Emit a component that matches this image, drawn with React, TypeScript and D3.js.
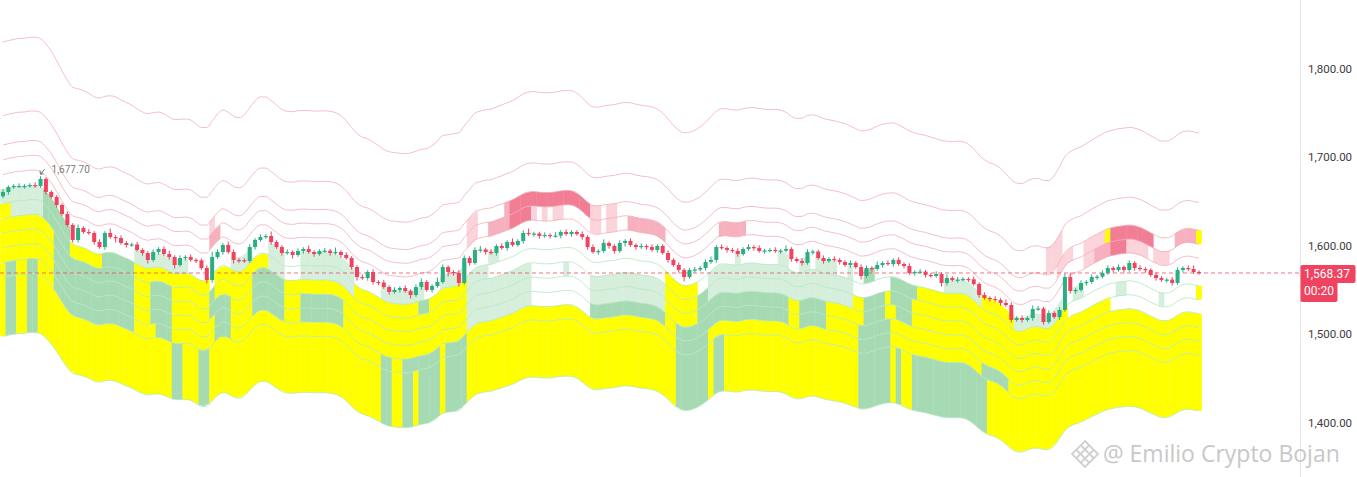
import React from 'react';
import * as d3 from 'd3';

// ---------------- DATA ----------------
const closes = [
  1659.9, 1665.5, 1666.7, 1666.7, 1666.7, 1667.8, 1666.7, 1674.6, 1659.9, 1654.2,
  1645.2, 1635.0, 1622.6, 1605.7, 1619.2, 1614.7, 1613.6, 1603.4, 1597.7, 1613.6,
  1609.0, 1607.9, 1602.3, 1600.0, 1600.6, 1594.4, 1591.0, 1583.1, 1592.1, 1595.5,
  1589.8, 1586.4, 1577.4, 1585.3, 1586.4, 1583.1, 1582.6, 1574.0, 1560.5, 1586.4,
  1592.1, 1600.0, 1592.1, 1583.1, 1582.8, 1581.9, 1597.7, 1605.7, 1609.0, 1610.2,
  1603.4, 1597.7, 1591.0, 1592.1, 1588.7, 1593.2, 1595.5, 1592.1, 1589.8, 1593.2,
  1593.6, 1591.0, 1592.1, 1588.7, 1585.3, 1575.1, 1563.8, 1562.7, 1569.5, 1558.2,
  1557.6, 1552.5, 1546.9, 1549.2, 1551.4, 1548.0, 1543.5, 1552.5, 1558.2, 1549.2,
  1553.7, 1558.2, 1575.1, 1569.5, 1568.4, 1557.1, 1585.3, 1579.7, 1594.4, 1594.9,
  1592.1, 1591.0, 1598.9, 1596.6, 1603.4, 1600.0, 1604.5, 1613.6, 1612.4, 1612.9,
  1610.2, 1611.3, 1610.2, 1610.6, 1614.7, 1612.4, 1614.7, 1612.4, 1609.0, 1597.7,
  1592.1, 1593.2, 1602.3, 1598.9, 1593.2, 1602.3, 1604.5, 1600.0, 1597.7, 1598.9,
  1597.7, 1594.4, 1598.9, 1591.0, 1583.1, 1577.4, 1571.8, 1563.8, 1571.8, 1572.3,
  1574.0, 1580.8, 1583.1, 1597.7, 1596.6, 1594.4, 1593.2, 1589.8, 1595.5, 1597.7,
  1596.6, 1593.2, 1593.7, 1594.4, 1593.2, 1593.6, 1595.5, 1584.2, 1581.9, 1579.7,
  1592.1, 1592.6, 1585.3, 1581.9, 1584.2, 1583.1, 1580.8, 1577.4, 1579.7, 1575.1,
  1565.0, 1574.0, 1572.9, 1577.4, 1579.7, 1578.5, 1583.1, 1578.5, 1576.3, 1568.4,
  1569.5, 1569.9, 1566.1, 1565.0, 1567.2, 1557.1, 1562.7, 1560.5, 1560.9, 1561.6,
  1561.2, 1555.9, 1543.5, 1540.1, 1539.0, 1537.9, 1534.5, 1532.2, 1515.3, 1517.5,
  1515.3, 1517.5, 1527.7, 1528.2, 1513.0, 1523.2, 1518.6, 1526.6, 1563.8, 1548.0,
  1549.2, 1557.1, 1558.2, 1563.8, 1564.2, 1568.4, 1574.0, 1571.8, 1575.1, 1571.8,
  1579.7, 1574.0, 1572.9, 1571.8, 1566.1, 1562.7, 1560.5, 1560.9, 1557.1, 1571.8,
  1574.0, 1572.9, 1569.5, 1568.37,
];
const firstOpen = 1655.0;

const wickUp = [
  3, 2, 2, 3, 2, 2, 3, 3.1, 2, 2,
  2, 2, 3, 2, 4, 2, 3, 2, 3, 2,
  5, 2, 3, 2, 2, 3, 2, 2, 3, 2,
  3, 4, 2, 3, 2, 3, 2, 2, 3, 6,
  3, 2, 4, 3, 2, 2, 3, 2, 3, 2,
  5, 2, 2, 3, 2, 3, 2, 4, 2, 2,
  3, 2, 5, 2, 3, 2, 2, 3, 2, 3,
  2, 3, 2, 3, 2, 3, 2, 3, 4, 2,
  2, 5, 3, 2, 2, 3, 3, 2, 3, 4,
  2, 3, 2, 3, 2, 4, 2, 3, 5, 2,
  2, 3, 2, 4, 2, 3, 2, 2, 3, 2,
  3, 2, 4, 2, 2, 3, 2, 3, 2, 3,
  2, 3, 2, 2, 3, 2, 3, 2, 2, 3,
  2, 3, 4, 2, 3, 2, 2, 3, 2, 3,
  2, 3, 2, 2, 3, 2, 4, 2, 2, 3,
  3, 2, 2, 3, 2, 3, 2, 2, 3, 2,
  3, 3, 2, 4, 2, 3, 2, 3, 2, 3,
  2, 3, 2, 2, 3, 2, 4, 2, 3, 2,
  2, 3, 2, 3, 2, 3, 2, 4, 3, 2,
  3, 2, 4, 3, 2, 3, 2, 3, 4, 5,
  2, 3, 2, 3, 2, 3, 3, 2, 3, 2,
  3, 2, 3, 2, 2, 3, 2, 2, 3, 3,
  2, 3, 4, 2,
];
const wickDn = [
  2, 3, 2, 2, 3, 2, 2, 2, 3, 2,
  3, 2, 2, 3, 3, 2, 2, 3, 2, 3,
  2, 5, 2, 3, 2, 2, 3, 4, 2, 3,
  2, 3, 4, 2, 3, 2, 3, 2, 4, 3,
  2, 3, 2, 4, 3, 2, 2, 3, 2, 2,
  3, 2, 3, 2, 4, 2, 3, 2, 3, 2,
  2, 3, 2, 3, 2, 3, 4, 2, 3, 3,
  3, 2, 3, 2, 3, 2, 4, 2, 3, 2,
  3, 2, 2, 5, 3, 4, 2, 3, 2, 3,
  3, 2, 3, 2, 3, 2, 2, 3, 2, 3,
  3, 2, 3, 2, 3, 2, 3, 2, 3, 3,
  2, 3, 2, 3, 3, 2, 4, 2, 3, 2,
  3, 2, 3, 2, 3, 2, 3, 5, 2, 3,
  2, 3, 2, 3, 2, 3, 2, 3, 2, 2,
  3, 2, 3, 2, 2, 3, 2, 3, 2, 3,
  2, 3, 2, 3, 2, 2, 3, 2, 3, 2,
  4, 2, 3, 2, 3, 2, 3, 2, 3, 2,
  3, 2, 3, 2, 2, 4, 3, 2, 3, 2,
  3, 2, 3, 2, 3, 2, 3, 2, 3, 2,
  3, 2, 3, 2, 3, 2, 2, 3, 2, 3,
  3, 2, 3, 2, 3, 2, 2, 3, 2, 3,
  2, 3, 2, 3, 2, 3, 2, 3, 3, 2,
  3, 2, 2, 2,
];

const upperLevels = [1.01, 1.02, 1.03, 1.05, 1.1];
const lowerLevels = [0.99, 0.98, 0.97, 0.96, 0.95, 0.94, 0.9];
const priceTicks = [1400, 1500, 1600, 1700, 1800];
const lastPrice = 1568.37;
const countdown = '00:20';
const peakIndex = 7;
const peakPrice = 1677.7;
const watermark = '@ Emilio Crypto Bojan';

type Seg = [number, number, string];
// upper zones (multiplier ranges)
const zoneU1: Seg[] = [[39, 40, 'm'], [87, 88, 'l'], [91, 94, 'm'], [95, 98, 'h'], [99, 99, 'l'], [101, 101, 'l'], [103, 104, 'l'], [110, 111, 'l'], [113, 114, 'l'], [117, 123, 'm'], [134, 138, 'm'], [202, 203, 'l'], [204, 206, 'm'], [207, 209, 'h'], [210, 213, 'l'], [215, 217, 'l']];
const zoneU2: Seg[] = [[39, 39, 'l'], [87, 88, 'l'], [94, 94, 'm'], [95, 109, 'h'], [110, 111, 'l'], [113, 114, 'l'], [197, 199, 'l'], [202, 205, 'l'], [206, 206, 'y'], [207, 214, 'h'], [219, 222, 'm'], [223, 223, 'y']];
const zoneU3: Seg[] = [[195, 197, 'l']];
// lower zones
const zoneL0: Seg[] = [[0, 7, 'l'], [8, 12, 'm'], [25, 34, 'l'], [43, 46, 'l'], [50, 52, 'l'], [56, 65, 'l'], [71, 78, 'l'], [82, 86, 'l'], [91, 92, 'l'], [137, 137, 'l'], [145, 146, 'l'], [149, 150, 'l'], [152, 155, 'l'], [158, 158, 'l'], [161, 162, 'm'], [176, 182, 'l'], [183, 188, 'y'], [189, 197, 'l'], [200, 201, 'l']];
const zoneL1: Seg[] = [[0, 1, 'y'], [2, 7, 'l'], [8, 12, 'm'], [13, 18, 'y'], [19, 24, 'm'], [25, 38, 'y'], [40, 49, 'y'], [50, 52, 'l'], [56, 65, 'l'], [66, 77, 'y'], [78, 79, 'm'], [80, 86, 'y'], [87, 90, 'l'], [124, 129, 'y'], [132, 158, 'l'], [166, 170, 'm'], [171, 198, 'y'], [208, 209, 'l'], [216, 216, 'l'], [223, 223, 'y']];
const zoneL2: Seg[] = [[0, 9, 'y'], [10, 24, 'm'], [25, 27, 'y'], [28, 31, 'm'], [32, 38, 'y'], [39, 39, 'm'], [40, 46, 'y'], [47, 52, 'm'], [53, 86, 'y'], [87, 98, 'l'], [105, 105, 'l'], [110, 123, 'l'], [124, 129, 'y'], [130, 131, 'm'], [132, 158, 'l'], [159, 160, 'y'], [161, 164, 'm'], [165, 165, 'y'], [166, 169, 'm'], [170, 206, 'y']];
const zoneL3: Seg[] = [[0, 9, 'y'], [10, 24, 'm'], [25, 27, 'y'], [28, 31, 'm'], [32, 38, 'y'], [39, 42, 'm'], [43, 46, 'y'], [47, 52, 'm'], [53, 55, 'y'], [56, 63, 'm'], [64, 86, 'y'], [87, 98, 'l'], [110, 123, 'l'], [124, 129, 'y'], [130, 146, 'm'], [147, 148, 'y'], [149, 153, 'm'], [154, 160, 'y'], [161, 164, 'm'], [165, 166, 'y'], [167, 169, 'm'], [170, 223, 'y']];
const zoneL4: Seg[] = [[0, 9, 'y'], [10, 24, 'm'], [25, 27, 'y'], [28, 31, 'm'], [32, 39, 'y'], [40, 42, 'm'], [43, 46, 'y'], [47, 52, 'm'], [53, 55, 'y'], [56, 63, 'm'], [64, 86, 'y'], [87, 98, 'l'], [110, 123, 'm'], [124, 125, 'y'], [126, 146, 'm'], [147, 148, 'y'], [149, 153, 'm'], [154, 159, 'y'], [160, 165, 'm'], [166, 223, 'y']];
const zoneL5: Seg[] = [[0, 0, 'y'], [1, 2, 'm'], [3, 4, 'y'], [5, 6, 'm'], [7, 9, 'y'], [10, 24, 'm'], [25, 28, 'y'], [29, 31, 'm'], [32, 39, 'y'], [40, 42, 'm'], [43, 70, 'y'], [71, 72, 'm'], [73, 74, 'y'], [75, 81, 'm'], [82, 82, 'y'], [83, 86, 'm'], [87, 125, 'y'], [126, 131, 'm'], [132, 159, 'y'], [160, 165, 'm'], [166, 182, 'y'], [183, 187, 'm'], [188, 223, 'y']];
const zoneL6: Seg[] = [[0, 0, 'y'], [1, 2, 'm'], [3, 4, 'y'], [5, 6, 'm'], [7, 31, 'y'], [32, 33, 'm'], [34, 36, 'y'], [37, 38, 'm'], [39, 70, 'y'], [71, 72, 'm'], [73, 74, 'y'], [75, 76, 'm'], [77, 77, 'y'], [78, 81, 'm'], [82, 82, 'y'], [83, 86, 'm'], [87, 125, 'y'], [126, 131, 'm'], [132, 132, 'y'], [133, 134, 'm'], [135, 159, 'y'], [160, 165, 'm'], [166, 166, 'y'], [167, 167, 'm'], [168, 169, 'y'], [170, 183, 'm'], [184, 223, 'y']];

const upperZones: [number, number, Seg[]][] = [
  [1.01, 1.02, zoneU1], [1.02, 1.03, zoneU2], [1.03, 1.05, zoneU3],
];
const lowerZones: [number, number, Seg[]][] = [
  [1.0, 0.99, zoneL0], [0.99, 0.98, zoneL1], [0.98, 0.97, zoneL2], [0.97, 0.96, zoneL3],
  [0.96, 0.95, zoneL4], [0.95, 0.94, zoneL5], [0.94, 0.9, zoneL6],
];

const upperColors: Record<string, string> = { l: '#fbd3da', m: '#f7b0bd', h: '#f17e95', y: '#ffff00' };
const lowerColors: Record<string, string> = { l: '#d6eedc', m: '#a6dab3', y: '#ffff00' };

// ---------------- CHART ----------------
const W = 1357;
const H = 477;
const AXIS_X = 1300;

export default function App() {
  const n = closes.length;
  const x = d3.scaleLinear().domain([0, n - 1]).range([3, 1199]);
  const step = x(1) - x(0);
  const y = d3.scaleLinear().domain([1400, 1800]).range([422, 68]);

  const weights = [1, 2, 3, 2, 1];
  const basis = closes.map((_, i) => {
    let s = 0, ws = 0;
    for (let k = -2; k <= 2; k++) {
      const j = i + k;
      if (j >= 0 && j < n) { s += closes[j] * weights[k + 2]; ws += weights[k + 2]; }
    }
    return s / ws;
  });

  const opens = closes.map((c, i) => (i === 0 ? firstOpen : closes[i - 1]));

  const bandY = (m: number, i: number) => y(basis[Math.max(0, Math.min(n - 1, i))] * m);
  const edgeY = (m: number, i: number, side: number) => (bandY(m, i) + bandY(m, i + side)) / 2;

  const zonePolys = (zones: [number, number, Seg[]][], colors: Record<string, string>, key: string) => {
    const out: React.ReactNode[] = [];
    zones.forEach(([a, b, segs], zi) => {
      const codes: string[] = new Array(n).fill('');
      segs.forEach(([s, e, c]) => { for (let i = s; i <= e; i++) if (i >= 0 && i < n) codes[i] = c; });
      codes.forEach((c, i) => {
        if (!c) return;
        const x0 = x(i) - step / 2 - 0.2;
        const x1 = x(i) + step / 2 + 0.2;
        const pts = [
          [x0, edgeY(a, i, -1)], [x1, edgeY(a, i, 1)],
          [x1, edgeY(b, i, 1)], [x0, edgeY(b, i, -1)],
        ];
        out.push(
          <polygon key={`${key}-${zi}-${i}`} points={pts.map(p => p.join(',')).join(' ')} fill={colors[c]} />
        );
      });
    });
    return out;
  };

  const line = d3.line<number>()
    .x((_, i) => x(i))
    .y(d => y(d))
    .curve(d3.curveMonotoneX);

  const bandPath = (m: number) => line(basis.map(b => b * m)) || '';

  const green = '#2aae82';
  const red = '#f0435f';
  const bodyW = 4;
  const fmt = d3.format(',.2f');
  const lastY = y(lastPrice);
  const peakX = x(peakIndex);
  const peakY = y(peakPrice);

  return (
    <svg width={W} height={H} style={{ position: 'absolute', left: 0, top: 0, background: '#fff' }}
      fontFamily="Roboto, 'Noto Sans', sans-serif">
      <rect x={0} y={0} width={W} height={H} fill="#ffffff" />
      <g>{zonePolys(lowerZones, lowerColors, 'lo')}</g>
      <g>{zonePolys(upperZones, upperColors, 'up')}</g>
      <g fill="none">
        {upperLevels.map(m => (
          <path key={`u${m}`} d={bandPath(m)} stroke="#f2aab6" strokeWidth={0.9} opacity={0.85} />
        ))}
        {lowerLevels.map(m => (
          <path key={`l${m}`} d={bandPath(m)} stroke="#b4e8c0" strokeWidth={0.9} opacity={0.9} />
        ))}
      </g>
      <line x1={0} x2={AXIS_X} y1={lastY} y2={lastY} stroke={red} strokeOpacity={0.75}
        strokeWidth={1} strokeDasharray="4,3" />
      <g>
        {closes.map((c, i) => {
          const o = opens[i];
          const up = c >= o;
          const col = up ? green : red;
          const hi = Math.max(o, c) + wickUp[i];
          const lo = Math.min(o, c) - wickDn[i];
          const top = y(Math.max(o, c));
          const bot = y(Math.min(o, c));
          const cx = x(i);
          return (
            <g key={`c${i}`}>
              <line x1={cx} x2={cx} y1={y(hi)} y2={y(lo)} stroke={col} strokeWidth={1} />
              <rect x={cx - bodyW / 2} y={top} width={bodyW} height={Math.max(1.2, bot - top)} fill={col} />
            </g>
          );
        })}
      </g>
      <g stroke="#6f6f6f" strokeWidth={1} fill="none">
        <path d={`M${peakX + 4},${peakY - 7} L${peakX},${peakY - 2}`} />
        <path d={`M${peakX - 0.5},${peakY - 5.5} L${peakX},${peakY - 2} L${peakX + 3},${peakY - 2.5}`} />
      </g>
      <text x={peakX + 11} y={peakY - 3} fontSize={10} fill="#7a7a7a">{fmt(peakPrice)}</text>
      <line x1={AXIS_X + 0.5} x2={AXIS_X + 0.5} y1={0} y2={H} stroke="#e4e4e4" strokeWidth={1} />
      {priceTicks.map(t => (
        <text key={t} x={AXIS_X + 8} y={y(t) + 4.5} fontSize={11.5} fill="#3d3d3d">{fmt(t)}</text>
      ))}
      <rect x={AXIS_X + 0.5} y={lastY - 8} width={55} height={18} rx={2} fill={red} />
      <rect x={AXIS_X + 0.5} y={lastY + 8} width={37} height={21} rx={2} fill={red} />
      <text x={AXIS_X + 4} y={lastY + 5} fontSize={12} fill="#ffffff">{fmt(lastPrice)}</text>
      <text x={AXIS_X + 4} y={lastY + 22.5} fontSize={12} fill="#ffffff">{countdown}</text>
      <g transform="translate(1085,454)" stroke="#d0d0d0" strokeWidth={1.8} fill="none">
        <path d="M0,-13 L13,0 L0,13 L-13,0 Z" />
        <path d="M0,-4.5 L4.5,0 L0,4.5 L-4.5,0 Z" />
        <path d="M-8.5,-4 L-4.5,0 L-8.5,4 M8.5,-4 L4.5,0 L8.5,4 M-4,-8.5 L0,-4.5 L4,-8.5 M-4,8.5 L0,4.5 L4,8.5" />
      </g>
      <text x={1103} y={462} fontSize={23} fill="#c8c8c8" fontFamily="'Open Sans', 'Noto Sans', sans-serif">{watermark}</text>
    </svg>
  );
}
